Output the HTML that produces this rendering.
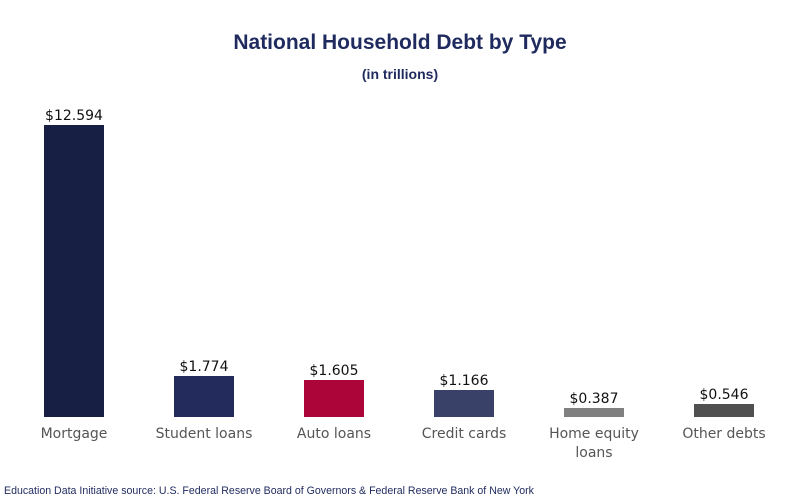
<!DOCTYPE html>
<html><head><meta charset="utf-8"><style>
body{margin:0;background:#fff}
svg{display:block}
.d{font-family:"DejaVu Sans","Liberation Sans",sans-serif}
.l{font-family:"Liberation Sans",sans-serif}
</style></head><body>
<svg width="800" height="500" viewBox="0 0 800 500">
<rect width="800" height="500" fill="#fff"/>
<text class="l" x="400" y="49" text-anchor="middle" font-size="21" font-weight="bold" fill="#1f2a5e">National Household Debt by Type</text>
<text class="l" x="400" y="79" text-anchor="middle" font-size="14" font-weight="bold" fill="#1f2a5e">(in trillions)</text>
<rect x="44" y="125" width="60" height="292" fill="#181f44"/>
<rect x="174" y="376" width="60" height="41" fill="#222b5c"/>
<rect x="304" y="380" width="60" height="37" fill="#ab0539"/>
<rect x="434" y="390" width="60" height="27" fill="#3a4169"/>
<rect x="564" y="408" width="60" height="9" fill="#808080"/>
<rect x="694" y="404" width="60" height="13" fill="#505050"/>
<g class="d" font-size="14" fill="#111" text-anchor="middle">
<text x="74" y="120">$12.594</text>
<text x="204" y="371">$1.774</text>
<text x="334" y="375">$1.605</text>
<text x="464" y="385">$1.166</text>
<text x="594" y="403">$0.387</text>
<text x="724" y="399">$0.546</text>
</g>
<g class="d" font-size="14" fill="#555" text-anchor="middle">
<text x="74" y="438">Mortgage</text>
<text x="204" y="438">Student loans</text>
<text x="334" y="438">Auto loans</text>
<text x="464" y="438">Credit cards</text>
<text x="594" y="438">Home equity</text>
<text x="594" y="457">loans</text>
<text x="724" y="438">Other debts</text>
</g>
<text class="l" x="4" y="494" font-size="10.6" fill="#1f2a5e">Education Data Initiative source: U.S. Federal Reserve Board of Governors &amp; Federal Reserve Bank of New York</text>
</svg>
</body></html>
